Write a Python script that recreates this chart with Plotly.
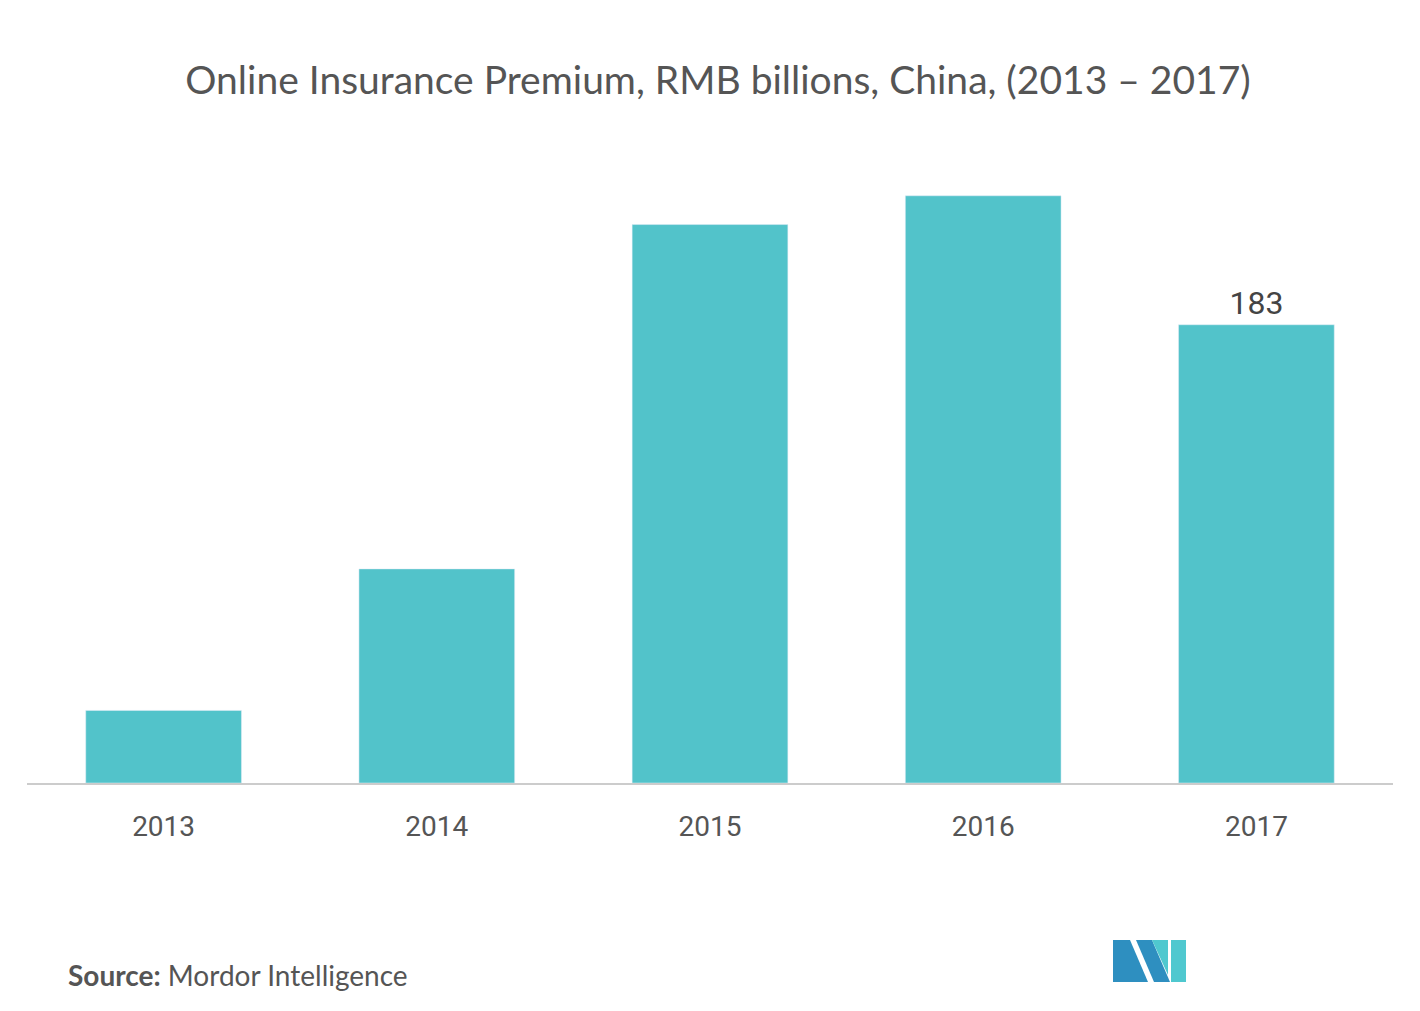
import plotly.graph_objects as go

years = ["2013", "2014", "2015", "2016", "2017"]
premium = [29.0, 85.5, 223.0, 234.5, 183.0]
labels = ["", "", "", "", "183"]

# the page has ~8px body margin, so layout coords are shifted by 8
L, R, T, B = 19, 35, 174, 236
W, H = 1420, 1011
PW, PH = W - L - R, H - T - B

fig = go.Figure(go.Bar(
    x=years, y=premium, text=labels, textposition="outside",
    marker_color="#52C3CA", cliponaxis=False,
    textfont=dict(size=32, color="#444", family="Roboto"),
))

fig.update_layout(
    width=W, height=H,
    plot_bgcolor="white", paper_bgcolor="white",
    margin=dict(l=L, r=R, t=T, b=B),
    bargap=0.43, showlegend=False,
    title=dict(text="Online Insurance Premium, RMB billions, China, (2013 – 2017)",
               x=0.5, y=1 - 72 / H, xanchor="center", yanchor="middle",
               font=dict(size=39, color="#555", family="Lato")),
    xaxis=dict(showline=True, linecolor="#ccc", linewidth=2, ticks="",
               ticklabelstandoff=17,
               tickfont=dict(size=28, color="#555", family="Roboto")),
    yaxis=dict(range=[0, 240], visible=False),
)


def px(x, y):
    # reference pixel -> paper coords
    x, y = x - 8, y - 8
    return (x - L) / PW, (H - B - y) / PH


sx, sy = px(66, 975)
fig.add_annotation(text="<b>Source:</b> Mordor Intelligence", xref="paper", yref="paper",
                   x=sx, y=sy, xanchor="left", yanchor="middle", showarrow=False,
                   font=dict(size=28, color="#555", family="Lato"))

for pts, col in [
    ([(1113, 982), (1113, 940), (1130, 940), (1148, 982)], "#2E8FC0"),
    ([(1136, 940), (1152, 940), (1170, 982), (1154, 982)], "#2E8FC0"),
    ([(1152, 940), (1168, 940), (1168, 975)], "#4FC8CF"),
    ([(1171, 940), (1186, 940), (1186, 982), (1171, 982)], "#4FC8CF"),
]:
    p = [px(*q) for q in pts]
    d = "M " + " L ".join(f"{a:.5f},{b:.5f}" for a, b in p) + " Z"
    fig.add_shape(type="path", xref="paper", yref="paper", path=d,
                  line_width=0, fillcolor=col)

fig.write_html("out.html")
